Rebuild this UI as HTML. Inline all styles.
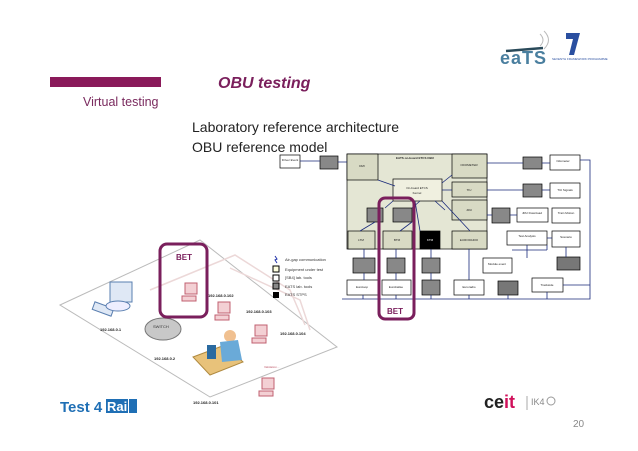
<!DOCTYPE html>
<html><head><meta charset="utf-8"><style>
html,body{margin:0;padding:0;background:#fff}
body{width:638px;height:451px;position:relative;overflow:hidden;font-family:"Liberation Sans",sans-serif}
.t{position:absolute;white-space:nowrap}
</style></head><body>
<div style="position:absolute;left:50px;top:77px;width:111px;height:10px;background:#8a1a5a"></div>
<div class="t" style="left:218px;top:75px;font-size:16px;font-weight:bold;font-style:italic;color:#7a1f5c">OBU testing</div>
<div class="t" style="left:83px;top:95px;font-size:12.5px;color:#7a2a5e">Virtual testing</div>
<div class="t" style="left:192px;top:119px;font-size:14px;color:#222">Laboratory reference architecture</div>
<div class="t" style="left:192px;top:139px;font-size:14px;color:#222">OBU reference model</div>
<div class="t" style="left:573px;top:419px;font-size:10px;color:#888">20</div>

<svg width="638" height="451" style="position:absolute;left:0;top:0" font-family="Liberation Sans, sans-serif">
<!-- eats logo -->
<g>
<text x="500" y="64" font-size="18" font-weight="bold" fill="#4a7f9f" letter-spacing="1">eaTS</text>
<path d="M506 51 L543 48" stroke="#2a4a5a" stroke-width="2.5"/>
<path d="M540 34 q6 6 0 12 M544 31 q9 9 0 18" stroke="#bbb" fill="none"/>
<path d="M566 33 L580 33 L574 55 L569 55 L573 39 L566 39Z" fill="#2a4fa0"/>
<text x="552" y="60" font-size="3" fill="#2a4fa0">SEVENTH FRAMEWORK PROGRAMME</text>
</g>
<!-- ceit logo -->
<text x="484" y="408" font-size="18" font-weight="bold" fill="#222">ce</text>
<text x="504" y="408" font-size="18" font-weight="bold" fill="#d0105a">it</text>
<line x1="527" y1="396" x2="527" y2="410" stroke="#aaa"/>
<text x="531" y="405" font-size="9" fill="#888">IK4</text>
<circle cx="551" cy="401" r="4" fill="none" stroke="#999"/>

<!-- left network diagram -->
<g fill="none" stroke="#bbb" stroke-width="1">
<path d="M60 305 L200 240 L337 347 L210 397 Z"/>
<path d="M150 290 L235 255 L290 290 L305 325" stroke="#ecd8d8" stroke-width="1.5"/>
<path d="M230 268 L300 300 L310 330" stroke="#ecd8d8" stroke-width="1.5"/>
</g>
<!-- PC1 -->
<rect x="110" y="282" width="22" height="20" fill="#dfe8f5" stroke="#5a7fb0"/>
<rect x="93" y="305" width="20" height="8" fill="#dfe8f5" stroke="#5a7fb0" transform="rotate(20 103 309)"/>
<ellipse cx="118" cy="306" rx="12" ry="5" fill="#eef" stroke="#5a7fb0"/>
<!-- switch -->
<ellipse cx="163" cy="329" rx="18" ry="11" fill="#c8c8c8" stroke="#777"/>
<text x="153" y="328" font-size="4" fill="#333">SWITCH</text>
<!-- red PCs -->
<g fill="#f3d0d4" stroke="#c06070">
<rect x="185" y="283" width="12" height="11"/><rect x="182" y="296" width="14" height="5"/>
<rect x="218" y="302" width="12" height="11"/><rect x="215" y="315" width="14" height="5"/>
<rect x="255" y="325" width="12" height="11"/><rect x="252" y="338" width="14" height="5"/>
<rect x="262" y="378" width="12" height="11"/><rect x="259" y="391" width="14" height="5"/>
</g>
<!-- person at desk -->
<path d="M193 357 L225 345 L243 362 L210 375Z" fill="#e8c27a" stroke="#b08a40"/>
<circle cx="230" cy="336" r="6" fill="#f0c090"/>
<path d="M220 342 L238 340 L242 360 L222 362Z" fill="#6aaad8"/>
<rect x="207" y="345" width="9" height="14" fill="#2a6aa0"/>
<g font-size="4" font-weight="bold" fill="#222">
<text x="100" y="331">192.168.0.1</text>
<text x="154" y="360">192.168.0.2</text>
<text x="208" y="297">192.168.0.102</text>
<text x="246" y="313">192.168.0.103</text>
<text x="280" y="335">192.168.0.104</text>
<text x="193" y="404">192.168.0.101</text>
</g>
<g font-size="3" fill="#c06070"><text x="264" y="368">Validation...</text></g>
<text x="60" y="412" font-size="15" font-weight="bold" fill="#1f6fb5">Test 4</text>
<rect x="106" y="399" width="22" height="14" fill="#1f6fb5"/>
<text x="107" y="411" font-size="13" font-weight="bold" fill="#fff">Rail</text>
<rect x="129" y="399" width="8" height="14" fill="#1f6fb5"/>
<!-- BET left box -->
<rect x="160" y="244" width="47" height="73" rx="7" fill="none" stroke="#7a1f5c" stroke-width="3"/>
<text x="176" y="260" font-size="8" font-weight="bold" fill="#7a1f5c">BET</text>

<!-- legend -->
<g font-size="4" fill="#333">
<path d="M275 256 l2 3 -2 1 2 3" stroke="#2233aa" fill="none"/><text x="285" y="261">Air-gap communication</text>
<rect x="273" y="266" width="6" height="6" fill="#ffffe0" stroke="#000"/><text x="285" y="271">Equipment under test</text>
<rect x="273" y="275" width="6" height="6" fill="#fff" stroke="#000"/><text x="285" y="279">[SB4] lab. tools</text>
<rect x="273" y="283" width="6" height="6" fill="#888" stroke="#000"/><text x="285" y="288">EATS lab. tools</text>
<rect x="273" y="292" width="6" height="6" fill="#000"/><text x="285" y="296">EATS STPS</text>
</g>

<!-- right architecture -->
<g stroke="#000" stroke-width="0.7" font-size="3.5" text-anchor="middle">
<rect x="347" y="154" width="140" height="95" fill="#e4e6d4"/>
<rect x="347" y="154" width="31" height="26" fill="#d8dac4"/>
<rect x="452" y="154" width="35" height="24" fill="#d8dac4"/>
<rect x="452" y="182" width="35" height="15" fill="#d8dac4"/>
<rect x="452" y="200" width="35" height="20" fill="#d8dac4"/>
<rect x="452" y="231" width="35" height="18" fill="#d8dac4"/>
<rect x="348" y="231" width="27" height="18" fill="#d8dac4"/>
<rect x="383" y="231" width="29" height="18" fill="#d8dac4"/>
<rect x="420" y="231" width="20" height="18" fill="#000"/>
<rect x="393" y="179" width="49" height="22" fill="#f0f0e0"/>
<rect x="367" y="208" width="16" height="14" fill="#888"/>
<rect x="393" y="208" width="19" height="14" fill="#888"/>
<rect x="280" y="155" width="20" height="13" fill="#fff"/>
<rect x="320" y="156" width="18" height="13" fill="#888"/>
<rect x="523" y="157" width="19" height="12" fill="#888"/>
<rect x="550" y="155" width="30" height="15" fill="#fff"/>
<rect x="523" y="184" width="19" height="13" fill="#888"/>
<rect x="550" y="183" width="30" height="15" fill="#fff"/>
<rect x="492" y="208" width="18" height="15" fill="#888"/>
<rect x="517" y="208" width="31" height="14" fill="#fff"/>
<rect x="552" y="208" width="28" height="15" fill="#fff"/>
<rect x="507" y="231" width="40" height="14" fill="#fff"/>
<rect x="552" y="231" width="28" height="16" fill="#fff"/>
<rect x="483" y="258" width="29" height="15" fill="#fff"/>
<rect x="557" y="257" width="23" height="13" fill="#777"/>
<rect x="532" y="278" width="31" height="14" fill="#fff"/>
<rect x="353" y="258" width="22" height="15" fill="#888"/>
<rect x="387" y="258" width="18" height="15" fill="#888"/>
<rect x="422" y="258" width="18" height="15" fill="#888"/>
<rect x="347" y="280" width="31" height="15" fill="#fff"/>
<rect x="382" y="280" width="29" height="15" fill="#fff"/>
<rect x="422" y="280" width="18" height="15" fill="#888"/>
<rect x="454" y="280" width="30" height="15" fill="#fff"/>
<rect x="498" y="281" width="20" height="14" fill="#777"/>
</g>
<g stroke="#1a2a7a" stroke-width="0.8" fill="none">
<path d="M300 161 H320 M338 162 H347 M487 163 H523 M542 163 H550 M487 190 H523 M542 190 H550 M487 215 H492 M510 215 H517"/>
<path d="M364 249 V258 M396 249 V258 M431 249 V258 M469 249 V280 M364 273 V280 M396 273 V280 M431 273 V280"/>
<path d="M342 299 H590 V160 H580 M363 295 V299 M396 295 V299 M431 295 V299 M469 295 V299 M508 295 V299 M547 292 V299"/>
<path d="M378 180 L395 186 M452 175 L442 183 M452 190 H442 M415 201 L420 231 M375 222 L360 231 M412 222 L400 231 M442 201 L470 231 M393 201 L385 208 M420 201 L412 208 M435 201 L445 210"/>
<path d="M527 245 V258 M512 250 H547 M547 245 V250 M552 238 H547 M566 247 V257 M563 285 H590"/>
</g>
<g font-size="3" fill="#222" text-anchor="middle">
<text x="362" y="167">DMI</text><text x="415" y="159" font-weight="bold">EATS on-board ETCS OBU</text>
<text x="469" y="166">ODOMETER</text><text x="469" y="191">TIU</text><text x="469" y="211">JRU</text>
<text x="469" y="241">EURORADIO</text><text x="361" y="241">LTM</text><text x="397" y="241">BTM</text>
<text x="430" y="241" fill="#fff">KTM</text><text x="417" y="189">On-board ETCS</text><text x="417" y="194">Kernel</text>
<text x="290" y="161">Driver Event</text><text x="563" y="162">Odometer</text><text x="565" y="191">TIU Signals</text>
<text x="532" y="214">JRU Download</text><text x="566" y="214">Train Motion</text>
<text x="527" y="237">Test Analysis</text><text x="566" y="238">Scenario</text>
<text x="497" y="265">Module event</text><text x="547" y="286">Trackside</text>
<text x="362" y="288">Euroloop</text><text x="396" y="288">Eurobalise</text><text x="469" y="288">Euroradio</text>
</g>
<!-- BET right box -->
<rect x="379" y="198" width="35" height="121" rx="6" fill="none" stroke="#7a1f5c" stroke-width="3"/>
<text x="387" y="314" font-size="8" font-weight="bold" fill="#7a1f5c">BET</text>
</svg>
</body></html>
